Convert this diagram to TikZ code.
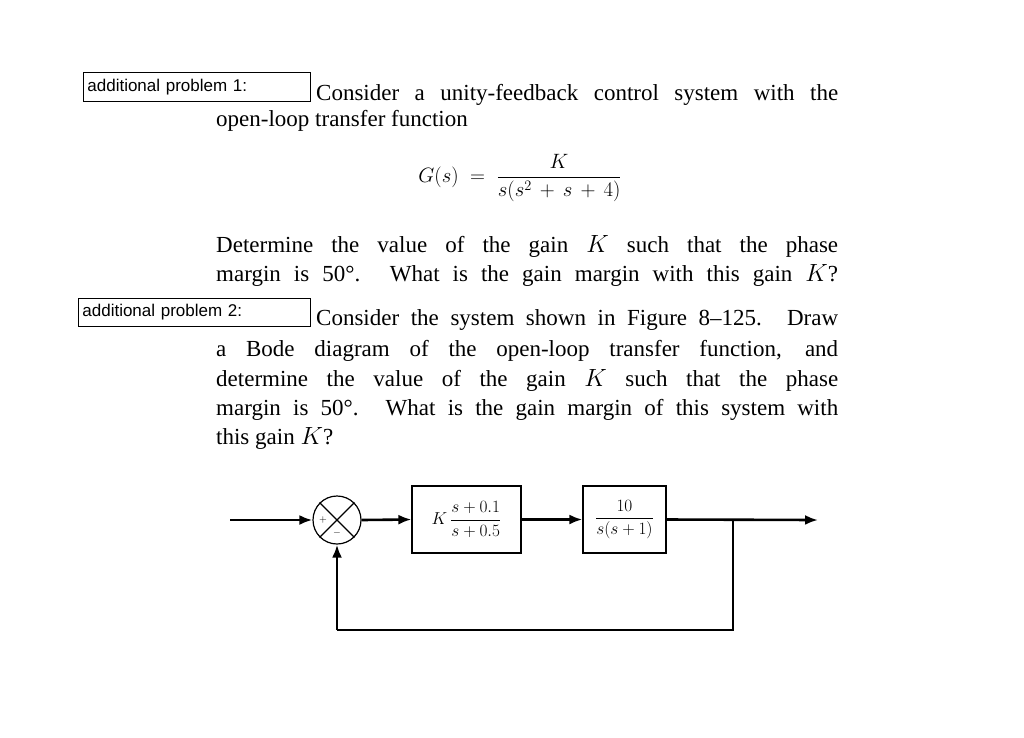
\documentclass[tikz,border=0pt]{standalone}
\usepackage{amsmath}
\usepackage{fontspec}
\setmainfont{Liberation Serif}
\setsansfont{Liberation Sans}
\usetikzlibrary{arrows.meta}
\newcommand{\jA}[1]{\makebox[522pt][s]{#1}}
\newcommand{\jB}[1]{\makebox[622pt][s]{#1}}
\begin{document}
\begin{tikzpicture}[x=1pt,y=-1pt,
  txt/.style={anchor=base west,inner sep=0pt,font=\fontsize{23}{26}\selectfont},
  lab/.style={draw,thick,inner sep=4pt,text width=220pt,align=left,font=\sffamily\fontsize{17}{19}\selectfont},
  blk/.style={draw,line width=1.2pt,minimum height=67pt,inner sep=2pt,font=\fontsize{19}{21}\selectfont},
  sig/.style={line width=2.6pt,-{Latex[length=13pt,width=10pt]}},
  ln/.style={line width=2.6pt}]
\useasboundingbox (0,0) rectangle (1024,737);
\node[lab,anchor=north west,text width=219pt,minimum height=29pt] (l1) at (83,72) {additional problem 1:};
\node[txt] (t1) at (316,100) {\jA{Consider a unity-feedback control system with the}};
\node[txt] (t2) at (216,126) {open-loop transfer function};
\node[font=\fontsize{22}{25}\selectfont] (eq) at (520,178) {$G(s)\;=\;\dfrac{K}{s(s^2\,+\,s\,+\,4)}$};
\node[txt] (t3) at (216,252) {\jB{Determine the value of the gain $K$ such that the phase}};
\node[txt] (t4) at (216,281) {\jB{margin is 50°. What is the gain margin with this gain $K$?}};
\node[lab,anchor=north west,text width=224pt,minimum height=28pt] (l2) at (78,298) {additional problem 2:};
\node[txt] (t5) at (316,325) {\jA{Consider the system shown in Figure 8–125. Draw}};
\node[txt] (t6) at (216,356) {\jB{a Bode diagram of the open-loop transfer function, and}};
\node[txt] (t7) at (216,386) {\jB{determine the value of the gain $K$ such that the phase}};
\node[txt] (t8) at (216,415) {\jB{margin is 50°. What is the gain margin of this system with}};
\node[txt] (t9) at (216,444) {this gain $K$?};
% diagram
\coordinate (in) at (230,520);
\node[draw,line width=1.2pt,circle,minimum size=48pt,inner sep=0pt] (sum) at (337,520) {};
\draw[line width=1.2pt] (sum.north west) -- (sum.south east) (sum.north east) -- (sum.south west);
\node[font=\bfseries] at ([xshift=-14pt]sum.center) {$+$};
\node[font=\bfseries] at ([yshift=-13pt]sum.center) {$-$};
\node[blk,minimum width=109pt] (b1) at (466.5,519.5) {$K\,\dfrac{s+0.1}{s+0.5}$};
\node[blk,minimum width=83pt] (b2) at (624.5,519.5) {$\dfrac{10}{s(s+1)}$};
\coordinate (br) at (733,520);
\coordinate (out) at (818,520);
\coordinate (fb1) at (733,630);
\coordinate (fb2) at (337,630);
\draw[sig] (in) -- (sum.west);
\draw[sig] (sum.east) -- (b1.west);
\draw[sig] (b1.east) -- (b2.west);
\draw[sig] (b2.east) -- (out);
\draw[ln] (br) -- (fb1) -- (fb2);
\draw[sig] (fb2) -- (sum.south);
\end{tikzpicture}
\end{document}
